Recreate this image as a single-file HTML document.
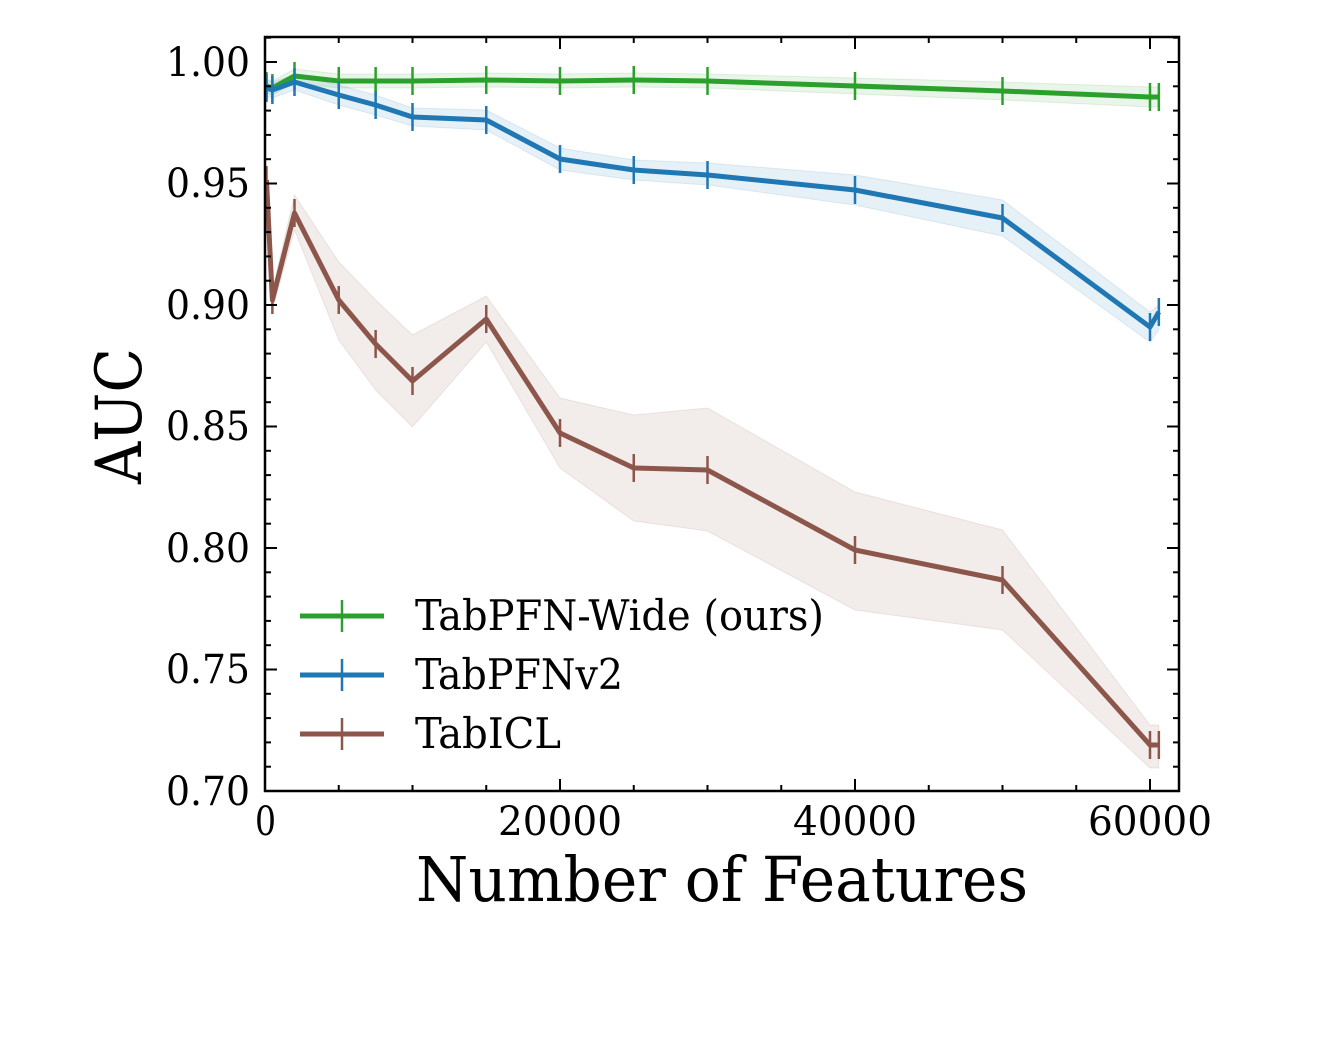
<!DOCTYPE html>
<html><head><meta charset="utf-8"><style>
html,body{margin:0;padding:0;background:#fff;}
svg{display:block;}
text{font-family:"DejaVu Serif Condensed","DejaVu Serif","Liberation Serif",serif;fill:#000;}
</style></head><body>
<svg id="s" width="1320" height="1064" viewBox="0 0 1320 1064" xmlns="http://www.w3.org/2000/svg">
<g id="bands"></g>
<g id="lines"></g>
<g id="ticks" stroke="#000" stroke-width="2"></g>
<rect x="265" y="37" width="914" height="754" fill="none" stroke="#000" stroke-width="2.5"/>
<g font-size="40">
<text x="166" y="76" textLength="84" lengthAdjust="spacingAndGlyphs">1.00</text>
<text x="166" y="197" textLength="84" lengthAdjust="spacingAndGlyphs">0.95</text>
<text x="166" y="319" textLength="84" lengthAdjust="spacingAndGlyphs">0.90</text>
<text x="166" y="440" textLength="84" lengthAdjust="spacingAndGlyphs">0.85</text>
<text x="166" y="562" textLength="84" lengthAdjust="spacingAndGlyphs">0.80</text>
<text x="166" y="683" textLength="84" lengthAdjust="spacingAndGlyphs">0.75</text>
<text x="166" y="805" textLength="84" lengthAdjust="spacingAndGlyphs">0.70</text>
</g>
<g font-size="40">
<text x="255" y="835" textLength="21" lengthAdjust="spacingAndGlyphs">0</text>
<text x="498" y="835" textLength="124" lengthAdjust="spacingAndGlyphs">20000</text>
<text x="793" y="835" textLength="124" lengthAdjust="spacingAndGlyphs">40000</text>
<text x="1088" y="835" textLength="124" lengthAdjust="spacingAndGlyphs">60000</text>
</g>
<text x="416" y="901" font-size="62" textLength="612" lengthAdjust="spacingAndGlyphs">Number of Features</text>
<text transform="translate(141,484) rotate(-90)" font-size="64" textLength="136" lengthAdjust="spacingAndGlyphs">AUC</text>
<g id="legend"></g>
<g font-size="42">
<text x="415" y="630" textLength="409" lengthAdjust="spacingAndGlyphs">TabPFN-Wide (ours)</text>
<text x="415" y="689" textLength="208" lengthAdjust="spacingAndGlyphs">TabPFNv2</text>
<text x="415" y="748" textLength="146" lengthAdjust="spacingAndGlyphs">TabICL</text>
</g>
</svg>
<script>
const X=[100,500,2000,5000,7500,10000,15000,20000,25000,30000,40000,50000,60000,60600];
const px=x=>265+x*0.01475;
const series=[
 {c:'#2ca02c',y:[86,88,76,81,81,81,80,81,80,81,86,91,97,97],
  u:[79,81,69,74,74,74,73,74,73,74,78,82,87,87],l:[93,95,83,88,88,88,87,88,87,88,94,100,107,107]},
 {c:'#1f77b4',y:[88,90,82,95,105,117,120,159,170,175,190,218,327,312],
  u:[80,82,75,85,95,108,110,148,160,163,175,200,312,305],l:[96,98,90,105,115,126,130,170,180,185,205,236,342,330]},
 {c:'#8c564b',y:[180,300,213,300,344,381,319,433,468,470,550,580,745,745],
  u:[178,290,195,262,300,335,296,398,415,408,492,530,725,725],l:[185,310,230,340,390,427,342,468,521,531,610,630,768,768]}
];
const NS='http://www.w3.org/2000/svg';
const mk=(g,t,a)=>{const e=document.createElementNS(NS,t);for(const k in a)e.setAttribute(k,a[k]);document.getElementById(g).appendChild(e);return e;};
series.forEach(s=>{
 let up=X.map((x,i)=>px(x)+','+s.u[i]).join(' ');
 let dn=X.map((x,i)=>px(x)+','+s.l[i]).reverse().join(' ');
 mk('bands','polygon',{points:up+' '+dn,fill:s.c,'fill-opacity':0.11,stroke:s.c,'stroke-opacity':0.12});
});
series.forEach(s=>{
 mk('lines','polyline',{points:X.map((x,i)=>px(x)+','+s.y[i]).join(' '),fill:'none',stroke:s.c,'stroke-width':5,'stroke-linejoin':'round'});
 X.forEach((x,i)=>mk('lines','line',{x1:px(x),x2:px(x),y1:s.y[i]-14,y2:s.y[i]+14,stroke:s.c,'stroke-width':2.5}));
});
for(let k=0;k<=31;k++){const v=0.70+k*0.01;const y=791-(v-0.70)*2430;if(y<37)continue;const L=(k%5==0)?12:6;
 mk('ticks','line',{x1:265,x2:265+L,y1:y,y2:y});mk('ticks','line',{x1:1179,x2:1179-L,y1:y,y2:y});}
for(let x=0;x<=60000;x+=5000){const p=px(x);const L=(x%20000==0)?12:6;
 mk('ticks','line',{x1:p,x2:p,y1:791,y2:791-L});mk('ticks','line',{x1:p,x2:p,y1:37,y2:37+L});}
[['#2ca02c',616],['#1f77b4',675],['#8c564b',734]].forEach(([c,y])=>{
 mk('legend','line',{x1:300,x2:384,y1:y,y2:y,stroke:c,'stroke-width':5});
 mk('legend','line',{x1:342,x2:342,y1:y-16,y2:y+16,stroke:c,'stroke-width':2.5});
});
</script>
</body></html>
